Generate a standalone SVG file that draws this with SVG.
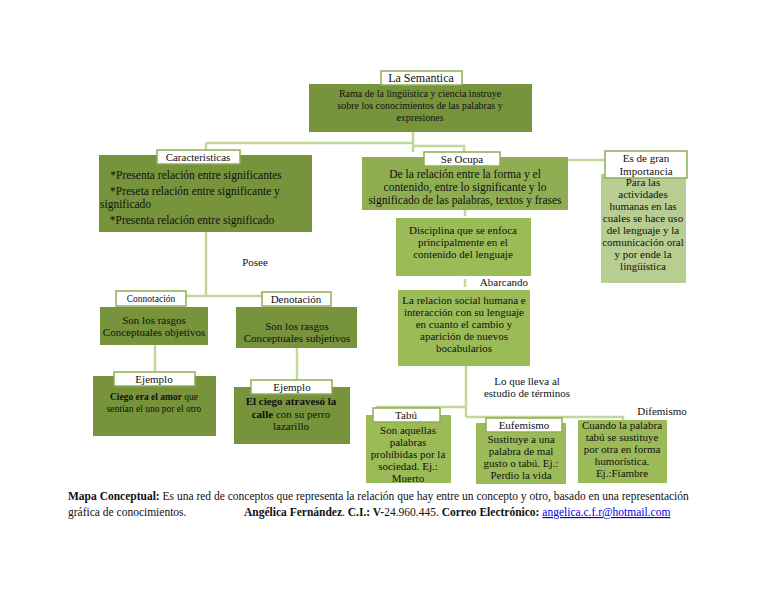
<svg xmlns="http://www.w3.org/2000/svg" width="768" height="594" viewBox="0 0 768 594">
<style>
text{font-family:"Liberation Serif",serif;font-size:11px;fill:#111;text-anchor:middle}
.d{fill:#77933c}.m{fill:#8fae52}.l{fill:#9bbb59}.p{fill:#b8cd92}
.lab{fill:#fff;stroke:#8fae52;stroke-width:1.5}
.c{stroke:#c3d69b;stroke-width:2.5;fill:none}
.s{font-size:10px}
.ft{text-anchor:start;font-size:11.5px}
</style>
<rect width="768" height="594" fill="#fff"/>
<g id="connectors">
<path class="c" d="M413 132V152M206 143H413M413 146H464V152M206 143V153"/>
<path class="c" d="M568 160H605"/>
<path class="c" d="M465 210V216M465 279V287"/>
<path class="c" d="M206 232V296M152 296H262M152 296V292M262 296V292"/>
<path class="c" d="M155 345V372M297 348V380"/>
<path class="c" d="M466 366V417M376 407H466M376 407V410M466 417H623V420M520 417V420"/>
</g>
<g id="semantica">
<rect class="d" x="309" y="84" width="223" height="48"/>
<rect class="lab" x="381" y="71" width="81" height="14"/>
<text x="421" y="82" style="font-size:12px">La Semantica</text>
<text x="420" y="97" class="s">Rama de la lingüística y ciencia instruye</text>
<text x="420" y="109" class="s">sobre los conocimientos de las palabras y</text>
<text x="420" y="121" class="s">expresiones</text>
</g>
<g id="caracteristicas">
<rect class="d" x="99" y="155" width="213" height="77"/>
<rect class="lab" x="157" y="150" width="83" height="14"/>
<text x="198" y="161">Caracteristicas</text>
<text x="196" y="179" style="font-size:11.5px">*Presenta relación entre significantes</text>
<text x="110" y="195" style="font-size:11.5px;text-anchor:start">*Preseta relación entre significante y</text>
<text x="100" y="208" style="font-size:11.5px;text-anchor:start">significado</text>
<text x="192" y="224" style="font-size:11.5px">*Presenta relación entre significado</text>
</g>
<g id="seocupa">
<rect class="m" x="362" y="157" width="206" height="53"/>
<rect class="lab" x="424" y="152" width="76" height="14"/>
<text x="462" y="163">Se Ocupa</text>
<text x="465" y="178" style="font-size:11.5px">De la relación entre la forma y el</text>
<text x="465" y="191" style="font-size:11.5px">contenido, entre lo significante y lo</text>
<text x="465" y="204" style="font-size:11.5px">significado de las palabras, textos y frases</text>
</g>
<g id="importancia">
<rect class="p" x="601" y="174" width="85" height="109"/>
<rect class="lab" x="605" y="151" width="82" height="27"/>
<text x="646" y="162">Es de gran</text>
<text x="646" y="175">Importancia</text>
<text x="643" y="186">Para las</text>
<text x="643" y="198">actividades</text>
<text x="643" y="210">humanas en las</text>
<text x="643" y="222">cuales  se hace uso</text>
<text x="643" y="234">del lenguaje y la</text>
<text x="643" y="246">comunicación oral</text>
<text x="643" y="258">y por ende la</text>
<text x="643" y="270">lingüística</text>
</g>
<g id="disciplina">
<rect class="l" x="396" y="218" width="135" height="58"/>
<text x="463" y="234">Disciplina que se enfoca</text>
<text x="463" y="246">principalmente en el</text>
<text x="463" y="258">contenido del lenguaje</text>
</g>
<text x="504" y="286">Abarcando</text>
<g id="relacion">
<rect class="l" x="398" y="290" width="132" height="76"/>
<text x="464" y="304">La relacion social humana e</text>
<text x="464" y="316">interacción con su lenguaje</text>
<text x="464" y="328">en cuanto el cambio y</text>
<text x="464" y="340">aparición de nuevos</text>
<text x="464" y="352">bocabularios</text>
</g>
<text x="527" y="385">Lo que lleva al</text>
<text x="527" y="397">estudio de términos</text>
<g id="tabu">
<rect class="l" x="366" y="415" width="85" height="68"/>
<rect class="lab" x="373" y="408" width="67" height="14"/>
<text x="406" y="419">Tabú</text>
<text x="408" y="434">Son aquellas</text>
<text x="408" y="446">palabras</text>
<text x="408" y="458">prohibidas por la</text>
<text x="408" y="470">sociedad. Ej.:</text>
<text x="408" y="482">Muerto</text>
</g>
<g id="eufemismo">
<rect class="l" x="476" y="423" width="90" height="61"/>
<rect class="lab" x="486" y="418" width="76" height="14"/>
<text x="524" y="429">Eufemismo</text>
<text x="521" y="443">Sustituye a una</text>
<text x="521" y="455">palabra de mal</text>
<text x="521" y="467">gusto o tabú. Ej.:</text>
<text x="521" y="479">Perdio la vida</text>
</g>
<g id="difemismo">
<rect class="l" x="578" y="420" width="89" height="63"/>
<text x="662" y="415">Difemismo</text>
<text x="622" y="429">Cuando la palabra</text>
<text x="622" y="441">tabú se sustituye</text>
<text x="622" y="453">por otra en forma</text>
<text x="622" y="465">humorística.</text>
<text x="622" y="477">Ej.:Fiambre</text>
</g>
<text x="255" y="266">Posee</text>
<g id="connotacion">
<rect class="d" x="100" y="307" width="108" height="38"/>
<rect class="lab" x="116" y="291" width="70" height="15"/>
<text x="151" y="302" style="font-size:9.5px">Connotación</text>
<text x="154" y="324">Son los rasgos</text>
<text x="154" y="336">Conceptuales objetivos</text>
</g>
<g id="denotacion">
<rect class="d" x="236" y="307" width="121" height="41"/>
<rect class="lab" x="262" y="292" width="69" height="14"/>
<text x="296" y="303">Denotación</text>
<text x="297" y="330">Son los rasgos</text>
<text x="297" y="342">Conceptuales subjetivos</text>
</g>
<g id="ejemplo1">
<rect class="d" x="93" y="376" width="123" height="60"/>
<rect class="lab" x="114" y="372" width="81" height="14"/>
<text x="154" y="383">Ejemplo</text>
<text x="154" y="400" style="font-size:9.5px"><tspan font-weight="bold">Ciego era el  amor</tspan> que</text>
<text x="154" y="412" style="font-size:9.5px">sentían el uno por el otro</text>
</g>
<g id="ejemplo2">
<rect class="d" x="234" y="387" width="116" height="57"/>
<rect class="lab" x="251" y="380" width="81" height="14"/>
<text x="292" y="391">Ejemplo</text>
<text x="291" y="405" style="font-weight:bold">El ciego atravesó  la</text>
<text x="291" y="418"><tspan font-weight="bold">calle</tspan>  con su perro</text>
<text x="291" y="430">lazarillo</text>
</g>
<g id="footer">
<text x="68" y="500" class="ft"><tspan font-weight="bold">Mapa Conceptual:</tspan> Es una red de conceptos que representa la relación que hay entre un concepto y otro, basado en una representación</text>
<text x="68" y="516" class="ft">gráfica de conocimientos.</text>
<text x="244" y="516" class="ft"><tspan font-weight="bold">Angélica Fernández</tspan>. <tspan font-weight="bold">C.I.: V-</tspan>24.960.445. <tspan font-weight="bold">Correo Electrónico:</tspan> <tspan fill="#0000ee" text-decoration="underline">angelica.c.f.r@hotmail.com</tspan></text>
</g>
</svg>
